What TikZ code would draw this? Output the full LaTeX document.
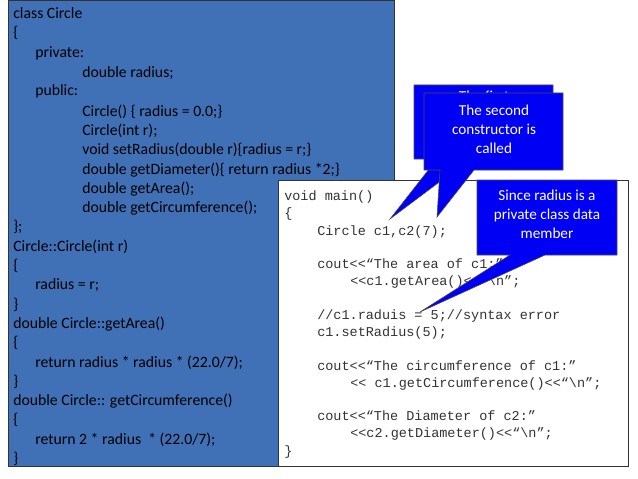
\documentclass[tikz,border=0pt]{standalone}
\usepackage{fontspec}
\setmainfont{Carlito}
\setmonofont{Liberation Mono}
\definecolor{slideblue}{RGB}{64,112,182}
\definecolor{callblue}{RGB}{0,0,245}
\tikzstyle{cl}=[anchor=base west,inner sep=0pt,font=\fontsize{11.2}{13}\selectfont]
\tikzstyle{cd}=[anchor=base west,inner sep=0pt,font=\ttfamily\fontsize{9.6}{11}\selectfont,text=black!80]
\tikzstyle{callout}=[fill=callblue,draw=black!70,thin]
\tikzstyle{ctext}=[text=white,align=center,font=\fontsize{10.8}{13.5}\selectfont]
\begin{document}
\begin{tikzpicture}[x=0.025cm,y=-0.025cm]
    \useasboundingbox (0,0) rectangle (638,479);
    % class box
    \node[draw=black!80,fill=slideblue,minimum width=386*0.025cm,minimum height=466*0.025cm,anchor=north west,inner sep=0pt] (cls) at (8,0) {};
    \node[cl] (l1) at (13,19) {class Circle};
    \node[cl] (l2) at (13,38) {\{};
    \node[cl] (l3) at (35,58) {private:};
    \node[cl] (l4) at (82,77) {double radius;};
    \node[cl] (l5) at (35,96) {public:};
    \node[cl] (l6) at (82,116) {Circle() \{ radius = 0.0;\}};
    \node[cl] (l7) at (82,135) {Circle(int r);};
    \node[cl] (l8) at (82,154) {void setRadius(double r)\{radius = r;\}};
    \node[cl] (l9) at (82,174) {double getDiameter()\{ return radius *2;\}};
    \node[cl] (l10) at (82,193) {double getArea();};
    \node[cl] (l11) at (82,212) {double getCircumference();};
    \node[cl] (l12) at (13,231) {\};};
    \node[cl] (l13) at (13,251) {Circle::Circle(int r)};
    \node[cl] (l14) at (13,270) {\{};
    \node[cl] (l15) at (35,289) {radius = r;};
    \node[cl] (l16) at (13,309) {\}};
    \node[cl] (l17) at (13,328) {double Circle::getArea()};
    \node[cl] (l18) at (13,347) {\{};
    \node[cl] (l19) at (35,367) {return radius * radius * (22.0/7);};
    \node[cl] (l20) at (13,386) {\}};
    \node[cl] (l21) at (13,405) {double Circle:: getCircumference()};
    \node[cl] (l22) at (13,424) {\{};
    \node[cl] (l23) at (35,444) {return 2 * radius~ * (22.0/7);};
    \node[cl] (l24) at (13,463) {\}};
    % code box
    \node[draw=black!80,fill=white,minimum width=350*0.025cm,minimum height=286*0.025cm,anchor=north west,inner sep=0pt] (code) at (278,180) {};
    \node[cd] (c1) at (284,200) {void main()};
    \node[cd] (c2) at (284,217) {\{};
    \node[cd] (c3) at (317,235) {Circle c1,c2(7);};
    \node[cd] (c4) at (317,268) {cout<<“The area of c1:”};
    \node[cd] (c5) at (350,285) {<<c1.getArea()<<“\textbackslash n”;};
    \node[cd] (c6) at (317,319) {//c1.raduis = 5;//syntax error};
    \node[cd] (c7) at (317,336) {c1.setRadius(5);};
    \node[cd] (c8) at (317,370) {cout<<“The circumference of c1:”};
    \node[cd] (c9) at (350,387) {<< c1.getCircumference()<<“\textbackslash n”;};
    \node[cd] (c10) at (317,420) {cout<<“The Diameter of c2:”};
    \node[cd] (c11) at (350,437) {<<c2.getDiameter()<<“\textbackslash n”;};
    \node[cd] (c12) at (284,455) {\}};
    % callouts
    \draw[callout] (414,85) -- (553,85) -- (553,159) -- (470,159) -- (390,219) -- (437,159) -- (414,159) -- cycle;
    \node[ctext] (first) at (484,115) {The first\\constructor is\\called};
    \draw[callout] (424,93) -- (563,93) -- (563,170) -- (474,170) -- (437,217) -- (440,170) -- (424,170) -- cycle;
    \node[ctext] (second) at (494,129) {The second\\constructor is\\called};
    \draw[callout] (477,180) -- (617,180) -- (617,255) -- (545,255) -- (420,312) -- (510,255) -- (477,255) -- cycle;
    \node[ctext] (since) at (547,214) {Since radius is a\\private class data\\member};
\end{tikzpicture}
\end{document}
